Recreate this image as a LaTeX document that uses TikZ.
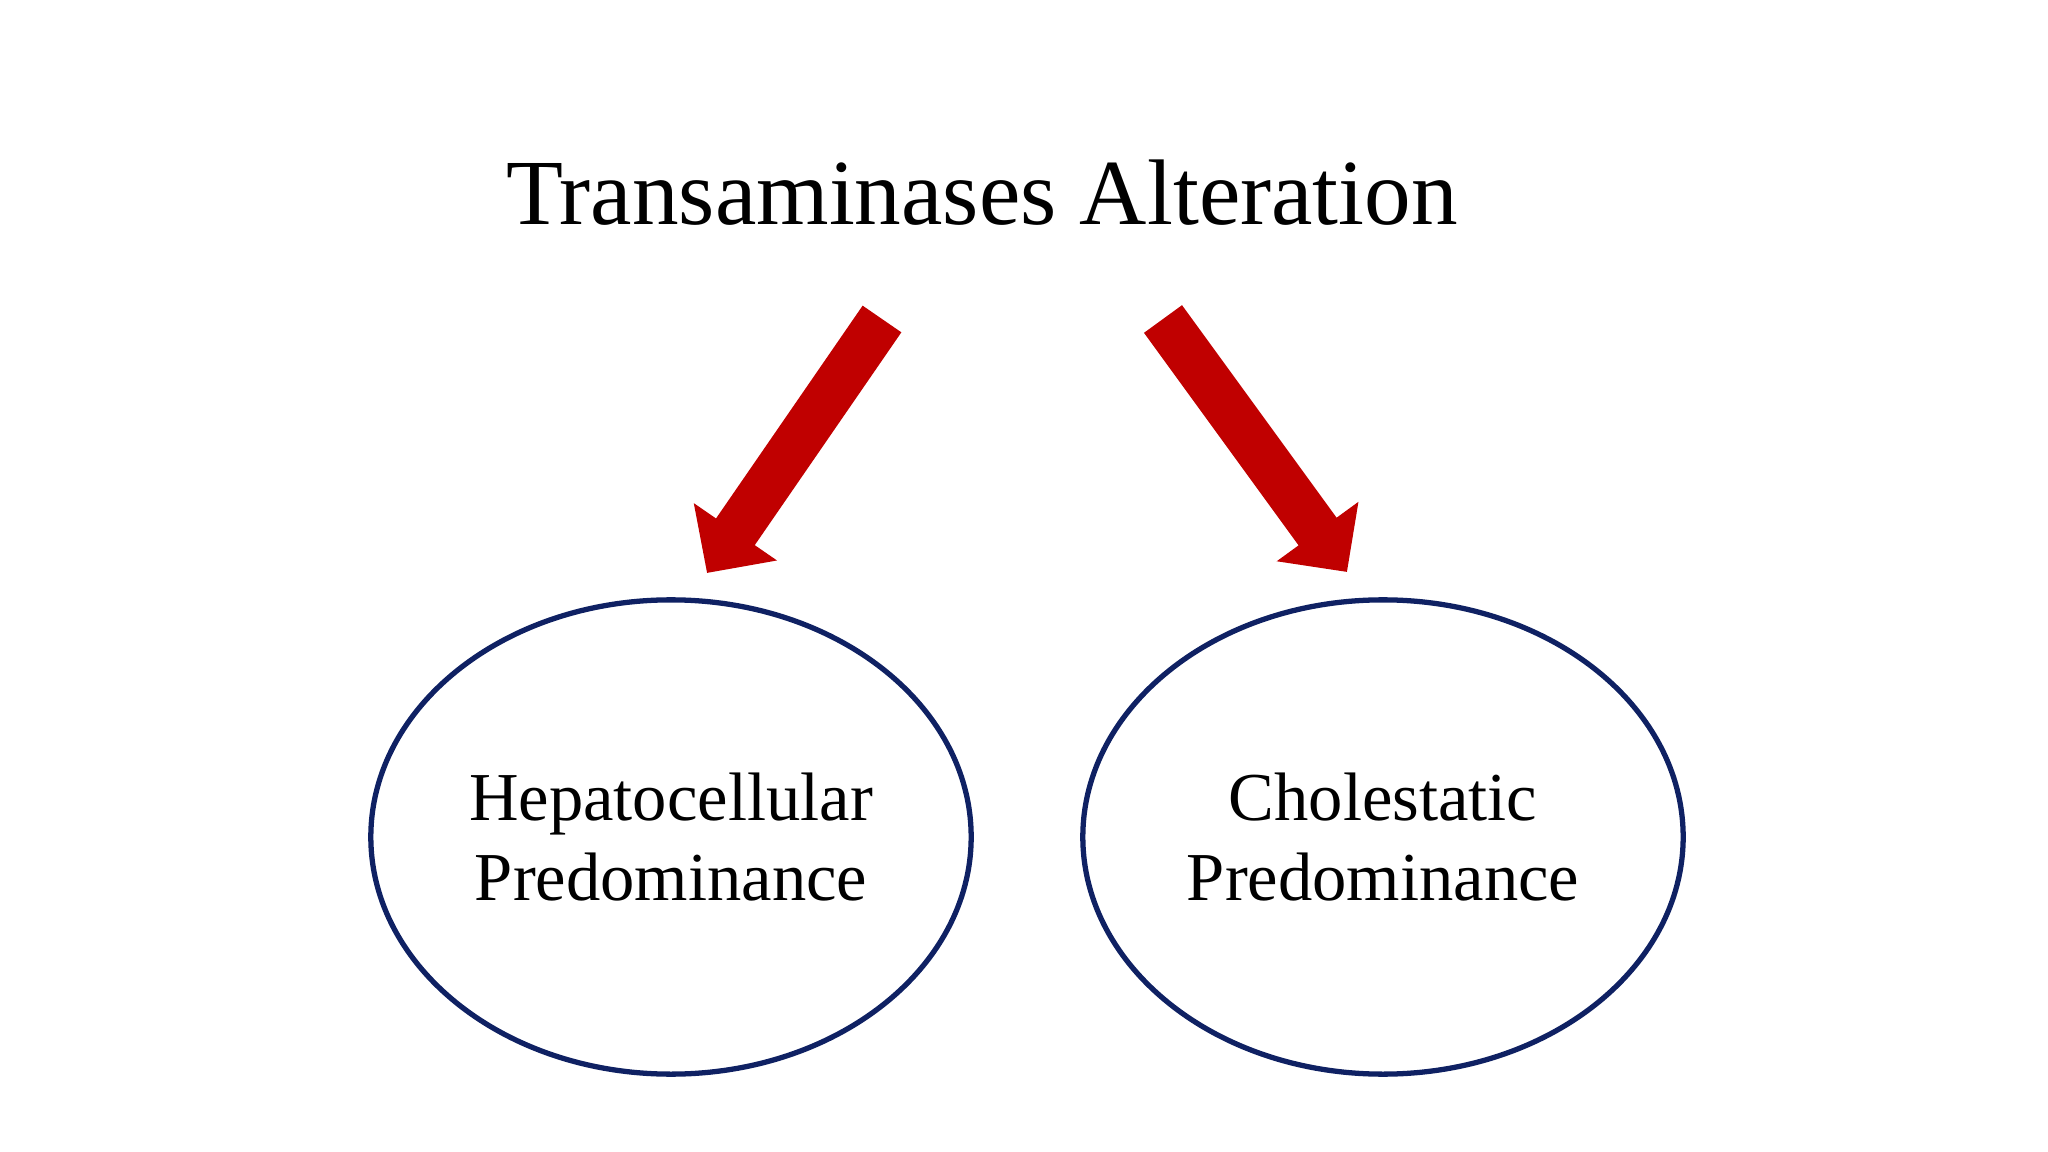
\documentclass[tikz,border=0pt]{standalone}
\usepackage{fontspec}
\setmainfont{Liberation Serif}
\usetikzlibrary{arrows.meta,shapes.geometric}
\definecolor{navy}{HTML}{0F2163}
\definecolor{arrred}{HTML}{C00000}
\begin{document}
\begin{tikzpicture}[x=0.01cm,y=-0.01cm,
  oval/.style={draw=navy,line width=1.5pt,ellipse,minimum width=6.0cm,minimum height=4.74cm,align=center,font=\fontsize{19.5}{23}\selectfont,inner sep=0pt},
  bigarrow/.style={arrred,line width=0.47cm,-{Triangle[width=0.98cm,length=0.5cm]}}]
\useasboundingbox (0,0) rectangle (2048,1152);
\node[font=\fontsize{26.5}{30}\selectfont] (title) at (982,193) {Transaminases Alteration};
\node[oval] (hep) at (671,837) {Hepatocellular\\Predominance};
\node[oval] (cho) at (1383,837) {Cholestatic\\Predominance};
\coordinate (s1) at (882,319);
\coordinate (e1) at (707,573);
\coordinate (s2) at (1163,319);
\coordinate (e2) at (1347,572);
\draw[bigarrow] (s1) -- (e1);
\draw[bigarrow] (s2) -- (e2);
\end{tikzpicture}
\end{document}
